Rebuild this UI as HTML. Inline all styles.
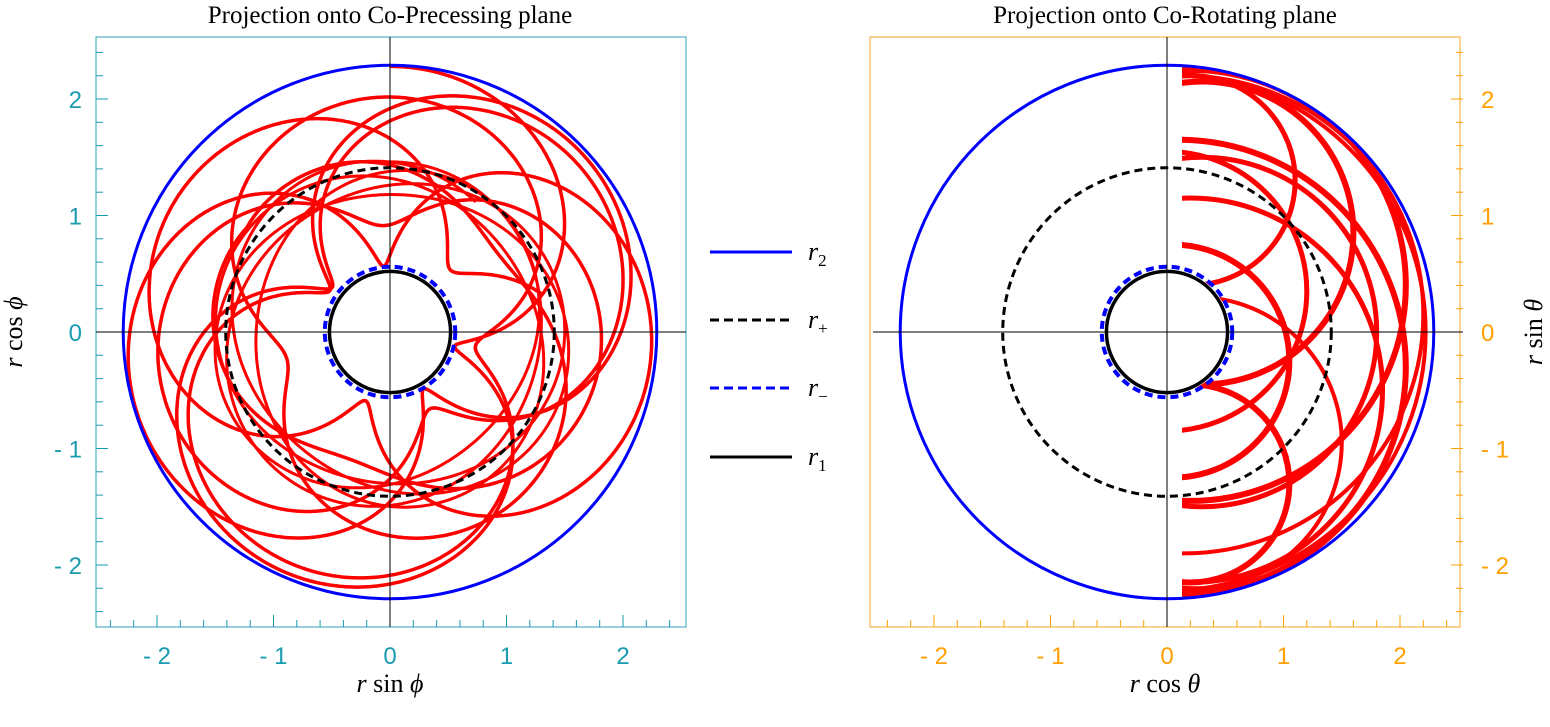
<!DOCTYPE html>
<html><head><meta charset="utf-8"><style>
body{margin:0;background:#fff;width:1550px;height:722px;overflow:hidden}
svg{font-family:"Liberation Serif",serif}
.tl{font-family:"Liberation Sans",sans-serif;font-size:24px}
</style></head><body>
<svg id="s" width="1550" height="722" xmlns="http://www.w3.org/2000/svg">
<defs>
<clipPath id="cr"><path d="M1182,37 L1460,37 L1460,627 L1182,627 Z"/></clipPath>
</defs>
<text x="390" y="23" font-size="25" text-anchor="middle">Projection onto Co-Precessing plane</text>
<text x="1165" y="23" font-size="25" text-anchor="middle">Projection onto Co-Rotating plane</text>
<rect x="96" y="37" width="590" height="590" fill="none" stroke="#2aa3b8" stroke-width="1"/>
<rect x="870" y="37" width="590" height="590" fill="none" stroke="#f5a623" stroke-width="1"/>
<g id="ticks"></g>
<g id="curves"></g>
<g id="ax"></g>
<text x="390" y="692" font-size="26" text-anchor="middle"><tspan font-style="italic">r</tspan> sin <tspan font-style="italic">ϕ</tspan></text>
<text x="1165" y="692" font-size="26" text-anchor="middle"><tspan font-style="italic">r</tspan> cos <tspan font-style="italic">θ</tspan></text>
<text transform="translate(22,332) rotate(-90)" font-size="26" text-anchor="middle"><tspan font-style="italic">r</tspan> cos <tspan font-style="italic">ϕ</tspan></text>
<text transform="translate(1542,332) rotate(-90)" font-size="26" text-anchor="middle"><tspan font-style="italic">r</tspan> sin <tspan font-style="italic">θ</tspan></text>
<line x1="710" y1="252" x2="792" y2="252" stroke="#0000ff" stroke-width="3"/>
<line x1="710" y1="320" x2="792" y2="320" stroke="#000" stroke-width="3" stroke-dasharray="9,5"/>
<line x1="710" y1="388" x2="792" y2="388" stroke="#0000ff" stroke-width="3" stroke-dasharray="9,5"/>
<line x1="710" y1="457" x2="792" y2="457" stroke="#000" stroke-width="3"/>
<g font-size="26" font-style="italic">
<text x="808" y="260">r<tspan font-size="17" dy="6" font-style="normal">2</tspan></text>
<text x="808" y="328">r<tspan font-size="17" dy="6" font-style="normal">+</tspan></text>
<text x="808" y="396">r<tspan font-size="17" dy="6" font-style="normal">−</tspan></text>
<text x="808" y="465">r<tspan font-size="17" dy="6" font-style="normal">1</tspan></text>
</g>
</svg>
<script>
var NS="http://www.w3.org/2000/svg",s=document.getElementById("s"),T=document.getElementById("ticks"),C=document.getElementById("curves"),AX=document.getElementById("ax");
function el(n,a,p){var e=document.createElementNS(NS,n);for(var k in a)e.setAttribute(k,a[k]);(p||s).appendChild(e);return e;}
var S=116.5;
function panel(cx,col,right){
 var x0=cx-294,x1=cx+296;
 for(var r=-26;r<=26;r+=2){var v=r/10;var big=(r%10==0);var L=big?12:7;
  var px=cx+v*S,py=332-v*S;
  if(px>x0&&px<x1){el("line",{x1:px,y1:627,x2:px,y2:627-L,stroke:col},T);}
  if(py>37&&py<627){if(right)el("line",{x1:x1,y1:py,x2:x1-L,y2:py,stroke:col},T);else el("line",{x1:x0,y1:py,x2:x0+L,y2:py,stroke:col},T);}
 }
 for(var v=-2;v<=2;v++){var t=(v<0?"- "+(-v):""+v);
  var e=el("text",{x:cx+v*S,y:664,"text-anchor":"middle","class":"tl",fill:col},T);e.textContent=t;
  var e2=el("text",{x:right?x1+18:x0-14,y:332-v*S+9,"text-anchor":right?"start":"end","class":"tl",fill:col},T);e2.textContent=t;}
 el("line",{x1:x0,y1:332,x2:x1,y2:332,stroke:"#000"},AX);
 el("line",{x1:cx,y1:37,x2:cx,y2:627,stroke:"#000"},AX);
}
panel(390,"#1a9bb0",false);panel(1167,"#ff9f00",true);
function path(pts,cx,attr,par){var d="";pts.forEach(function(p,i){d+=(i?"L":"M")+(cx+p[0]*S).toFixed(1)+","+(332-p[1]*S).toFixed(1);});attr.d=d;attr.fill="none";el("path",attr,par||C);}
var pts=[];for(var t=0;t<80;t+=0.008){
 var A=0.1+0.76*Math.pow(Math.abs(Math.cos(t*0.05)),0.8);
 var r=1.42+A*Math.cos(t);
 var ph=0.57*t+0.45*A*Math.sin(t);
 pts.push([r*Math.sin(ph),r*Math.cos(ph)]);}
path(pts,390,{stroke:"#f00","stroke-width":3.5});
// dense band near r+
var b=[];for(var t=0;t<40;t+=0.01){var r=1.36+0.14*Math.cos(t*1.3)+0.04*Math.sin(t*0.2);var ph=t*0.8;b.push([r*Math.sin(ph)+0.05*Math.sin(ph*0.5),r*Math.cos(ph)-0.04]);}
path(b,390,{stroke:"#f00","stroke-width":3});
var g=el("g",{"clip-path":"url(#cr)"},C);
[[0.2,0.4,1.85,6],[0.15,0.15,2.05,4],[0.1,-0.3,1.95,6],[0.2,-0.5,1.65,5],[0.3,0.85,1.3,6],[0.25,-0.95,1.25,4],[0.0,0.35,1.2,5],[0.05,-0.25,1.0,6],[0.0,0.0,2.22,4],[0.2,1.3,0.9,5],[0.2,-1.3,0.85,6],[0.3,0.0,1.5,5]].forEach(function(c){
 el("circle",{cx:1167+c[0]*S,cy:332-c[1]*S,r:c[2]*S,fill:"none",stroke:"#f00","stroke-width":c[3]},g);});
function circ(cx,r,st,w,da){var a={cx:cx,cy:332,r:r*S,fill:"none",stroke:st,"stroke-width":w};if(da)a["stroke-dasharray"]=da;el("circle",a,C);}
el("circle",{cx:1167,cy:332,r:2.29*S+3,fill:"none",stroke:"#fff","stroke-width":4},C);
[390,1167].forEach(function(cx){circ(cx,2.29,"#0000ff",3);circ(cx,1.41,"#000",3,"8,5");el("circle",{cx:cx,cy:332,r:0.54*S,fill:"#fff"},C);circ(cx,0.56,"#0000ff",4,"8,5");circ(cx,0.52,"#000",3.5);});
</script>
</body></html>
